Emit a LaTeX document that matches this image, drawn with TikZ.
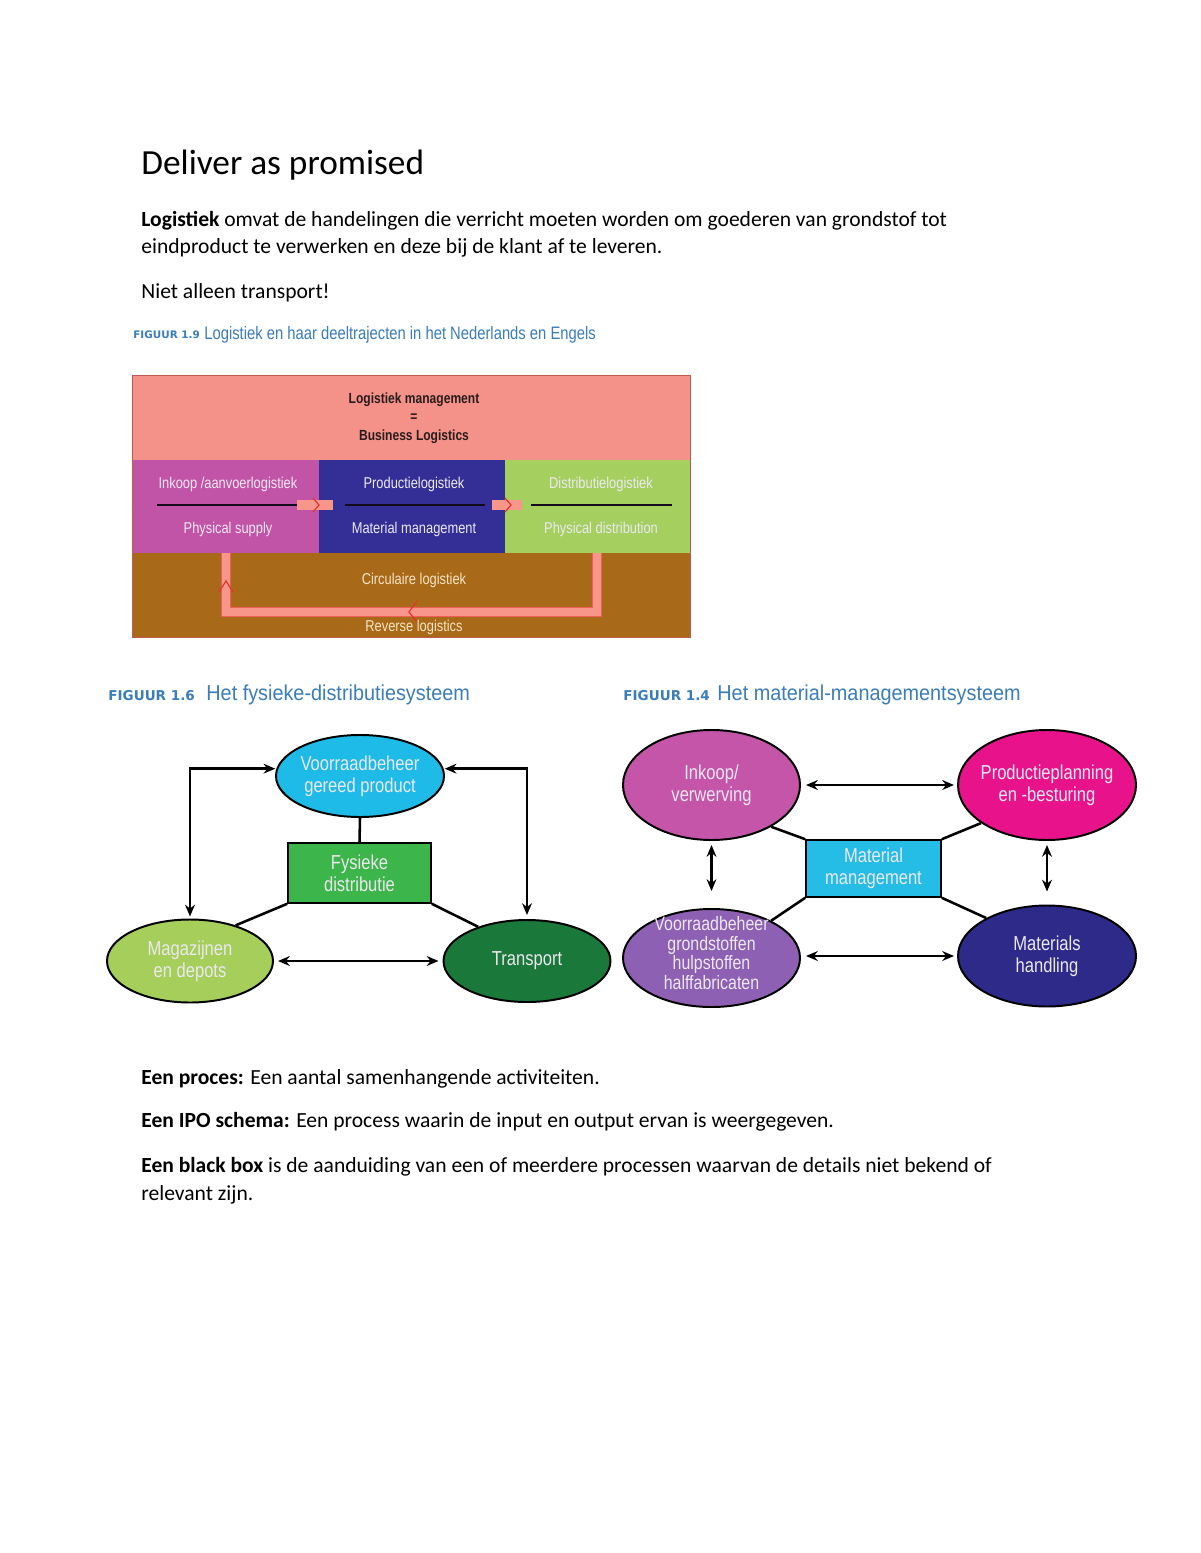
\documentclass[tikz,border=0pt]{standalone}
\usepackage{fontspec}
\setmainfont{Carlito}
\newfontfamily\condf[FakeStretch=0.82]{Liberation Sans}
\newfontfamily\capsans[FakeStretch=0.92]{Liberation Sans}
\newfontfamily\figlab{DejaVu Sans}
\usetikzlibrary{arrows.meta,shapes.geometric,calc}
\newcommand\pxu{0.51pt}
\definecolor{capblue}{RGB}{58,125,185}
\definecolor{toppink}{RGB}{244,146,138}
\definecolor{topborder}{RGB}{190,90,80}
\definecolor{toptxtc}{RGB}{40,28,28}
\definecolor{linedark}{RGB}{20,10,30}
\definecolor{colmag}{RGB}{194,84,168}
\definecolor{colblue}{RGB}{52,47,150}
\definecolor{colgreen}{RGB}{165,208,96}
\definecolor{brownb}{RGB}{168,106,24}
\definecolor{bandpink}{RGB}{248,150,140}
\definecolor{bandedge}{RGB}{236,95,85}
\definecolor{bandred}{RGB}{230,50,45}
\definecolor{creamtxt}{RGB}{246,228,196}
\definecolor{lighttxt}{RGB}{236,232,240}
\definecolor{cyanE}{RGB}{30,187,233}
\definecolor{greenR}{RGB}{60,181,74}
\definecolor{limeE}{RGB}{165,206,90}
\definecolor{dgreenE}{RGB}{26,120,58}
\definecolor{inkE}{RGB}{196,85,168}
\definecolor{pplE}{RGB}{232,19,138}
\definecolor{mmR}{RGB}{37,189,230}
\definecolor{vrgE}{RGB}{142,96,180}
\definecolor{mhE}{RGB}{46,42,138}
\tikzset{
  bodytxt/.style={anchor=base west,inner sep=0pt,font=\fontsize{11}{13}\selectfont},
  figcap/.style={anchor=base west,inner sep=0pt,text=capblue},
  capnumsmall/.style={figcap,font=\figlab\bfseries\fontsize{5.3}{6}\selectfont},
  capnum/.style={figcap,font=\figlab\bfseries\fontsize{6.9}{8}\selectfont},
  captxt/.style={figcap,font=\capsans\fontsize{11}{13}\selectfont},
  captxtc/.style={figcap,font=\condf\fontsize{9.2}{11}\selectfont},
  band/.style={draw=none,inner sep=0pt},
  bandtxt/.style={inner sep=0pt,font=\condf\fontsize{8}{9}\selectfont,text=lighttxt},
  oval/.style={ellipse,draw=black,line width=1pt,inner xsep=-14pt,inner ysep=-8pt,align=center,
     text=lighttxt,font=\condf\fontsize{10.3}{11.3}\selectfont},
  rbox/.style={rectangle,draw=black,line width=0.8pt,inner sep=0pt,align=center,
     text=lighttxt,font=\condf\fontsize{10.3}{11.3}\selectfont},
  link/.style={line width=1.3pt,black},
  dbl/.style={line width=1.3pt,black,{Stealth[length=6pt,width=5pt]}-{Stealth[length=6pt,width=5pt]}}
}
\begin{document}
\begin{tikzpicture}[x=0.51pt,y=-0.51pt]
\useasboundingbox[fill=white] (0,0) rectangle (1200,1553);

% ---- text at top
\node[anchor=base west,inner sep=0pt,font=\fontsize{18}{21}\selectfont] (title) at (141,175) {Deliver as promised};
\node[bodytxt] (l1) at (141,226) {\textbf{Logistiek} omvat de handelingen die verricht moeten worden om goederen van grondstof tot};
\node[bodytxt] (l2) at (141,254) {eindproduct te verwerken en deze bij de klant af te leveren.};
\node[bodytxt] (l3) at (141,298) {Niet alleen transport!};

% ---- FIGUUR 1.9
\node[capnumsmall] (c19a) at (133,338) {FIGUUR 1.9};
\node[captxtc] (c19b) at (204,339) {Logistiek en haar deeltrajecten in het Nederlands en Engels};

\node[band,fill=toppink,minimum width=557*\pxu,minimum height=84*\pxu] (top) at (411.5,418) {};
\node[inner sep=0pt,align=center,text=toptxtc,font=\condf\bfseries\fontsize{7.5}{9.4}\selectfont] (toptxt) at (414,418) {Logistiek management\\=\\Business Logistics};
\node[band,fill=colmag,minimum width=186*\pxu,minimum height=93*\pxu] (cA) at (226,506.5) {};
\node[band,fill=colblue,minimum width=186*\pxu,minimum height=93*\pxu] (cB) at (412,506.5) {};
\node[band,fill=colgreen,minimum width=185*\pxu,minimum height=93*\pxu] (cC) at (597.5,506.5) {};
\node[band,fill=brownb,minimum width=557*\pxu,minimum height=84*\pxu] (bot) at (411.5,595) {};
\draw[topborder,line width=0.6pt] (top.north west) rectangle (bot.south east);

\node[bandtxt] (tA1) at (228,484) {Inkoop /aanvoerlogistiek};
\node[bandtxt] (tA2) at (228,529) {Physical supply};
\node[bandtxt] (tB1) at (414,484) {Productielogistiek};
\node[bandtxt] (tB2) at (414,529) {Material management};
\node[bandtxt] (tC1) at (601,484) {Distributielogistiek};
\node[bandtxt] (tC2) at (601,529) {Physical distribution};
\coordinate (la1) at (157,505); \coordinate (la2) at (297,505);
\coordinate (lb1) at (345,505); \coordinate (lb2) at (485,505);
\coordinate (lc1) at (531,505); \coordinate (lc2) at (672,505);
\draw[line width=1.3pt,linedark] (la1) -- (la2) (lb1) -- (lb2) (lc1) -- (lc2);
% connectors between columns
\node[band,fill=bandpink,minimum width=36*\pxu,minimum height=10*\pxu] (p1) at (315,505) {};
\node[band,fill=bandpink,minimum width=30*\pxu,minimum height=10*\pxu] (p2) at (507,505) {};
\draw[bandred,line width=0.6pt] ($(p1.center)+(-2,-7)$) -- ($(p1.center)+(4,0)$) -- ($(p1.center)+(-2,7)$);
\draw[bandred,line width=0.6pt] ($(p2.center)+(-2,-7)$) -- ($(p2.center)+(4,0)$) -- ($(p2.center)+(-2,7)$);

% reverse loop
\coordinate (u1) at (597,553); \coordinate (u2) at (597,612);
\coordinate (u3) at (226,612); \coordinate (u4) at (226,553);
\draw[bandedge,line width=4.8pt] (u1) -- (u2) -- (u3) -- (u4);
\draw[bandpink,line width=4pt] (u1) -- (u2) -- (u3) -- (u4);
\draw[bandred,line width=0.6pt] (219,592) -- (226,581) -- (233,592);
\draw[bandred,line width=0.6pt] (417,601) -- (409,612) -- (417,622);
\node[inner sep=0pt,font=\condf\fontsize{8}{9}\selectfont,text=creamtxt] (circ) at (414,580) {Circulaire logistiek};
\node[inner sep=0pt,font=\condf\fontsize{8}{9}\selectfont,text=creamtxt] (rev) at (414,627) {Reverse logistics};

% ---- FIGUUR 1.6
\node[capnum] (c16a) at (108,700) {FIGUUR 1.6};
\node[captxt] (c16b) at (206,700) {Het fysieke-distributiesysteem};

\node[oval,fill=cyanE,minimum width=168*\pxu,minimum height=82*\pxu] (vgp) at (360,776) {Voorraadbeheer\\gereed product};
\node[rbox,fill=greenR,minimum width=143*\pxu,minimum height=60*\pxu] (fd) at (359.5,873) {Fysieke\\distributie};
\node[oval,fill=limeE,minimum width=166*\pxu,minimum height=83*\pxu] (mag) at (190,961) {Magazijnen\\en depots};
\node[oval,fill=dgreenE,minimum width=167*\pxu,minimum height=82*\pxu] (tr) at (527,961) {Transport};

\draw[link] (vgp.south) -- (fd.north);
\draw[link] (fd.south west) -- (mag.38);
\draw[link] (fd.south east) -- (tr.145);
\draw[dbl,shorten <=4*\pxu,shorten >=4*\pxu] (mag.east) -- (tr.west);
\draw[dbl,shorten <=2*\pxu,shorten >=1*\pxu] (mag.north) |- (vgp.175);
\draw[dbl,shorten <=4*\pxu,shorten >=1*\pxu] (tr.north) |- (vgp.5);

% ---- FIGUUR 1.4
\node[capnum] (c14a) at (623,700) {FIGUUR 1.4};
\node[captxt] (c14b) at (717,700) {Het material-managementsysteem};

\node[oval,fill=inkE,minimum width=177*\pxu,minimum height=110*\pxu] (ink) at (711.5,785) {Inkoop/\\verwerving};
\node[oval,fill=pplE,minimum width=178*\pxu,minimum height=110*\pxu] (ppl) at (1047,785) {Productieplanning\\en -besturing};
\node[rbox,fill=mmR,minimum width=135*\pxu,minimum height=57*\pxu] (mm) at (873.5,868.5) {Material\\management};
\node[oval,fill=vrgE,minimum width=177*\pxu,minimum height=98*\pxu,font=\condf\fontsize{9.9}{10.1}\selectfont] (vrg) at (711.5,958) {Voorraadbeheer\\grondstoffen\\hulpstoffen\\halffabricaten\\[-5pt]};
\node[oval,fill=mhE,minimum width=178*\pxu,minimum height=101*\pxu] (mh) at (1047,956) {Materials\\handling};

\draw[link] (mm.north west) -- (ink.-35);
\draw[link] (mm.north east) -- (ppl.210);
\draw[link] (mm.south west) -- (vrg.32);
\draw[link] (mm.south east) -- (mh.148);
\draw[dbl,shorten <=5*\pxu,shorten >=3*\pxu] (ink.east) -- (ppl.west);
\draw[dbl,shorten <=5*\pxu,shorten >=3*\pxu] (vrg.east |- mh.west) -- (mh.west);
\draw[dbl,shorten <=4*\pxu,shorten >=17*\pxu] (ink.south) -- (vrg.north);
\draw[dbl,shorten <=4*\pxu,shorten >=13*\pxu] (ppl.south) -- (mh.north);

% ---- text at bottom
\node[bodytxt] (b1) at (141,1084) {\textbf{Een proces:} Een aantal samenhangende activiteiten.};
\node[bodytxt] (b2) at (141,1127) {\textbf{Een IPO schema:} Een process waarin de input en output ervan is weergegeven.};
\node[bodytxt] (b3) at (141,1172) {\textbf{Een black box} is de aanduiding van een of meerdere processen waarvan de details niet bekend of};
\node[bodytxt] (b4) at (141,1200) {relevant zijn.};
\end{tikzpicture}
\end{document}
